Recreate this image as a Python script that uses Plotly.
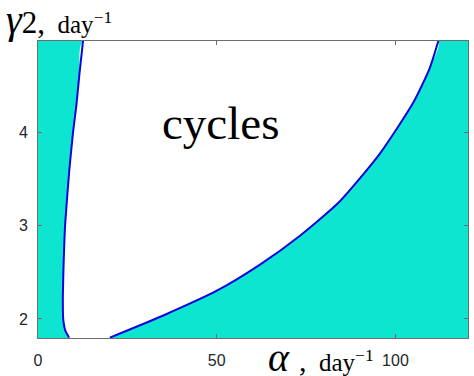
import plotly.graph_objects as go

# Left stability boundary (alpha, gamma2), bottom to top
left_alpha = [8.7, 7.6, 7.05, 6.95, 7.1, 7.3, 7.57, 8.7, 9.8, 10.7, 11.6, 12.6]
left_gamma = [1.80, 1.88, 2.00, 2.20, 2.50, 2.75, 3.00, 3.57, 4.00, 4.28, 4.63, 4.98]

# Right stability boundary (alpha, gamma2), bottom to top
right_alpha = [20.1, 34.9, 49.9, 62.0, 73.2, 84.4, 95.6, 105.0, 109.6, 112.0]
right_gamma = [1.80, 2.035, 2.30, 2.58, 2.89, 3.26, 3.77, 4.32, 4.69, 4.98]

x_ticks = [0, 50, 100]
y_ticks = [2, 3, 4]
x_range = [0, 120.3]
y_range = [1.796, 4.98]

teal = "rgb(14,229,209)"
blue = "rgb(5,5,222)"

# white "cycles" region between the two boundaries
poly_x = left_alpha + right_alpha[::-1] + [left_alpha[0]]
poly_y = left_gamma + right_gamma[::-1] + [left_gamma[0]]

fig = go.Figure()
fig.add_trace(go.Scatter(x=poly_x, y=poly_y, fill="toself", fillcolor="white",
                         mode="lines", line=dict(width=0, shape="spline", smoothing=0.6),
                         hoverinfo="skip", showlegend=False))
fig.add_trace(go.Scatter(x=left_alpha, y=left_gamma, mode="lines",
                         line=dict(color=blue, width=2, shape="spline", smoothing=0.6),
                         showlegend=False))
fig.add_trace(go.Scatter(x=right_alpha, y=right_gamma, mode="lines",
                         line=dict(color=blue, width=2, shape="spline", smoothing=0.6),
                         showlegend=False))

axis_common = dict(showgrid=False, zeroline=False, showline=True, linecolor="#6e6e6e",
                   linewidth=1, mirror="ticks", ticks="inside", ticklen=4,
                   tickcolor="#6e6e6e", automargin=False,
                   tickfont=dict(family="Liberation Sans, Arial, sans-serif", size=16,
                                 color="#262626"))
fig.update_xaxes(range=x_range, tickvals=x_ticks, ticktext=[str(v) for v in x_ticks],
                 ticklabelstandoff=8, **axis_common)
fig.update_yaxes(range=y_range, tickvals=y_ticks, ticktext=[str(v) for v in y_ticks],
                 ticklabelstandoff=6, **axis_common)

W, H = 474, 376
ml, mr, mt, mb = 38, 6, 41, 38
pw, ph = W - ml - mr, H - mt - mb

def px(x):
    return (x - ml) / pw

def py(y):
    return (H - mb - y) / ph

serif = "Liberation Serif, DejaVu Serif, serif"

fig.add_annotation(x=51, y=4.1, xref="x", yref="y", text="cycles", showarrow=False,
                   font=dict(family=serif, size=47, color="black"))

fig.add_annotation(x=px(266), y=py(357), xref="paper", yref="paper", xanchor="left",
                   yanchor="middle", showarrow=False,
                   text="<i><span style='font-size:40px'>α </span></i><span style='font-size:30px'>,</span>&nbsp; day<sup>−1</sup>",
                   font=dict(family=serif, size=25, color="black"))

fig.add_annotation(x=px(4), y=py(20), xref="paper", yref="paper", xanchor="left",
                   yanchor="middle", showarrow=False,
                   text="<i><span style='font-size:40px'>γ</span></i><span style='font-size:31px'>2,</span>&nbsp; day<sup>−1</sup>",
                   font=dict(family=serif, size=25, color="black"))

fig.update_layout(width=W, height=H,
                  margin=dict(l=ml, r=mr, t=mt, b=mb, pad=0, autoexpand=False),
                  plot_bgcolor=teal, paper_bgcolor="white")

fig.write_html("out.html", config={"displayModeBar": False},
               post_script="document.body.style.margin='0';document.body.style.overflow='hidden';")
